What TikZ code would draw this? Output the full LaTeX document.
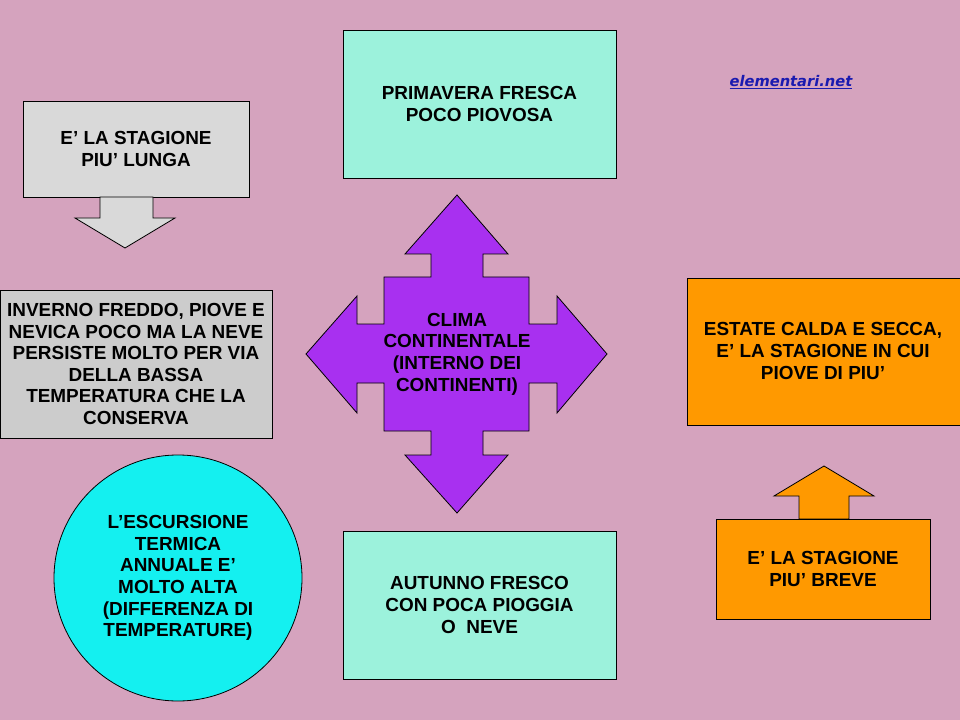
\documentclass[tikz,border=0pt]{standalone}
\usepackage{fontspec}
\setmainfont{Liberation Sans}
\newfontfamily\logofont{DejaVu Sans}
\begin{document}
\begin{tikzpicture}[x=0.75pt,y=-0.75pt,
  box/.style={draw=black,line width=0.6pt},
  txt/.style={font=\bfseries\fontsize{14.2}{16.2}\selectfont,align=center,text=black},
  shp/.style={draw=black,line width=0.6pt}]
\definecolor{bg}{HTML}{D5A3BE}
\definecolor{mint}{HTML}{9CF2DC}
\definecolor{lgray}{HTML}{D9D9D9}
\definecolor{mgray}{HTML}{CCCCCC}
\definecolor{purp}{HTML}{A830F0}
\definecolor{cyanc}{HTML}{14F0F0}
\definecolor{orng}{HTML}{FF9900}
\definecolor{logob}{HTML}{1A1AB0}
\fill[bg] (0,0) rectangle (960,720);
\useasboundingbox (0,0) rectangle (960,720);
% cross
\draw[shp,fill=purp] (457,195) -- (508,254) -- (483,254) -- (483,277) -- (529,277) -- (529,324) -- (557,324) -- (557,296) -- (607,354) -- (557,413) -- (557,383) -- (529,383) -- (529,431) -- (483,431) -- (483,455) -- (508,455) -- (457,513) -- (405,455) -- (431,455) -- (431,431) -- (384,431) -- (384,383) -- (357,383) -- (357,413) -- (306,354) -- (357,296) -- (357,324) -- (384,324) -- (384,277) -- (431,277) -- (431,254) -- (405,254) -- cycle;
\node[txt] (clima) at (457,354) {CLIMA\\CONTINENTALE\\(INTERNO DEI\\CONTINENTI)};
% boxes
\draw[box,fill=mint] (343,30) rectangle (616,178);
\node[txt] (prim) at (479.5,104) {PRIMAVERA FRESCA\\POCO PIOVOSA};
\draw[box,fill=mint] (343,531) rectangle (616,679);
\node[txt] (aut) at (479.5,605) {AUTUNNO FRESCO\\CON POCA PIOGGIA\\O\ \ NEVE};
\draw[box,fill=lgray] (23,101) rectangle (249,197);
\node[txt] (lunga) at (136,149) {E’ LA STAGIONE\\PIU’ LUNGA};
\draw[shp,fill=lgray] (100,197) -- (153,197) -- (153,218) -- (175,218) -- (125,248) -- (75,218) -- (100,218) -- cycle;
\draw[box,fill=mgray] (0,290) rectangle (272,438);
\node[txt] (inv) at (136,364) {INVERNO FREDDO, PIOVE E\\NEVICA POCO MA LA NEVE\\PERSISTE MOLTO PER VIA\\DELLA BASSA\\TEMPERATURA CHE LA\\CONSERVA};
\draw[box,fill=cyanc] (178,578) ellipse [x radius=124, y radius=123];
\node[txt] (esc) at (178,578) {L’ESCURSIONE\\TERMICA\\ANNUALE E’\\MOLTO ALTA\\(DIFFERENZA DI\\TEMPERATURE)};
\draw[box,fill=orng] (687,278) rectangle (962,425);
\node[txt] (est) at (823,351) {ESTATE CALDA E SECCA,\\E’ LA STAGIONE IN CUI\\PIOVE DI PIU’};
\draw[shp,fill=orng] (824,466) -- (874,496) -- (849,496) -- (849,519) -- (799,519) -- (799,496) -- (774,496) -- cycle;
\draw[box,fill=orng] (716,519) rectangle (930,619);
\node[txt] (breve) at (823,569) {E’ LA STAGIONE\\PIU’ BREVE};
\node[font=\logofont\bfseries\itshape\fontsize{11}{13}\selectfont,text=logob] (logo) at (791,82) {\underline{elementari.net}};
\end{tikzpicture}
\end{document}
